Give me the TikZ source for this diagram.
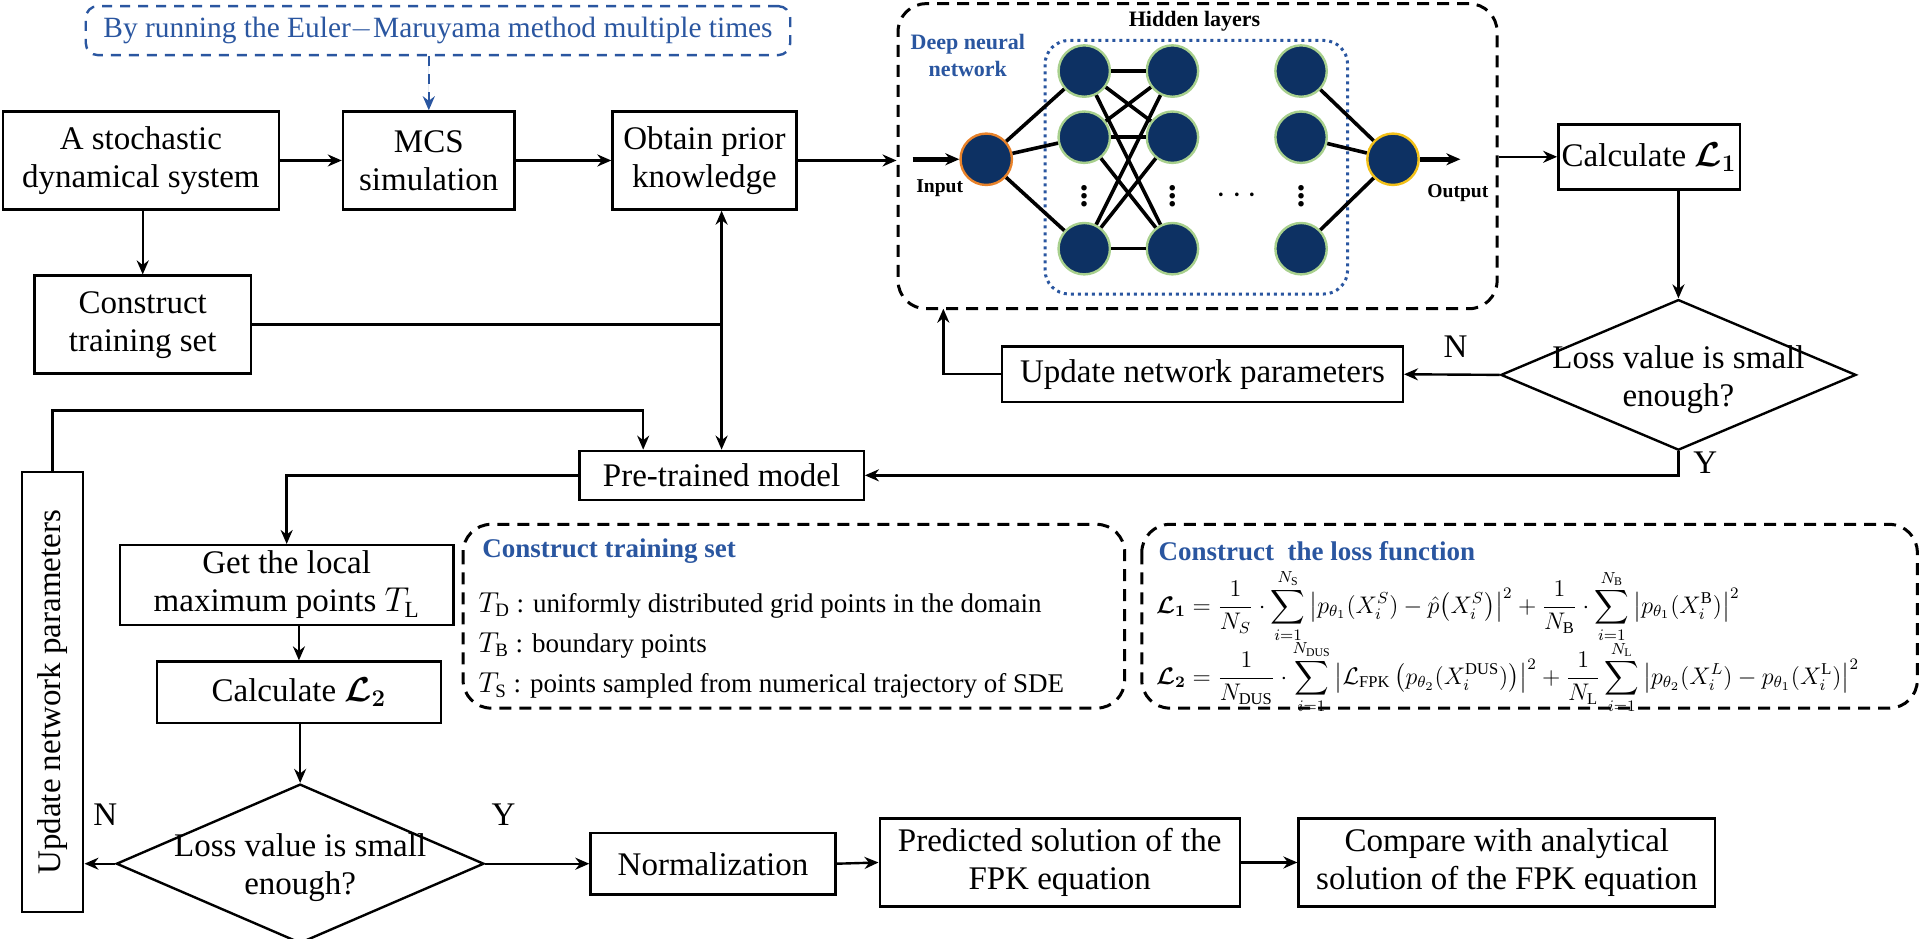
\documentclass[tikz,border=0pt]{standalone}
\usepackage{amsmath,bm}
\usepackage{fontspec}
\setmainfont{Liberation Serif}
\usetikzlibrary{shapes.geometric,arrows.meta,calc}
\definecolor{navy}{HTML}{0D3163}
\definecolor{bl}{HTML}{2A56A0}
\definecolor{lg}{HTML}{A8D08D}
\definecolor{org}{HTML}{E8822A}
\definecolor{yl}{HTML}{F2C018}
\begin{document}
\begin{tikzpicture}[x=0.6125pt,y=-0.6125pt,
 box/.style={draw,line width=1.2pt,align=center,inner sep=0pt,font=\fontsize{16.5}{19}\selectfont},
 dia/.style={draw,line width=1.2pt,diamond,inner sep=0pt},
 dtxt/.style={align=center,font=\fontsize{16.5}{19}\selectfont},
 arr/.style={line width=1.2pt,-{Stealth[length=7pt,width=6pt]}},
 ln/.style={line width=1.2pt},
 dbox/.style={draw,line width=1.5pt,dash pattern=on 6pt off 4pt,rounded corners=14pt},
 neu/.style={circle,fill=navy,draw=lg,line width=1.2pt,minimum size=25.7pt,inner sep=0pt},
 conn/.style={line width=1.8pt},
 lab/.style={font=\bfseries\fontsize{9.8}{11}\selectfont}]
\useasboundingbox (0,0) rectangle (1568,766);
% top blue
\node[draw=bl,text=bl,line width=1.2pt,dash pattern=on 5pt off 4pt,rounded corners=6pt,minimum width=352.2pt,minimum height=24.5pt,inner sep=0pt,font=\fontsize{14.7}{17}\selectfont] (ebl) at (357.5,25) {By running the Euler$-$Maruyama method multiple times};
\node[box,minimum width=137.8pt,minimum height=49pt] (A) at (115,131) {A stochastic\\dynamical system};
\node[box,minimum width=85.8pt,minimum height=49pt] (MCS) at (350,131) {MCS\\simulation};
\node[box,minimum width=91.9pt,minimum height=49pt] (Ob) at (575,131) {Obtain prior\\knowledge};
\node[box,minimum width=90.7pt,minimum height=32.5pt] (C1) at (1346,128) {Calculate $\bm{\mathcal{L}_1}$};
\node[dia,minimum width=177.6pt,minimum height=75.3pt] (D1) at (1370,306) {};
\node[dtxt] (D1t) at (1370,310) {Loss value is small\\enough?};
\node[box,minimum width=200.3pt,minimum height=27.6pt] (U1) at (981.5,305.5) {Update network parameters};
\node[box,minimum width=142.1pt,minimum height=24.5pt] (Pre) at (589,388) {Pre-trained model};
\node[box,minimum width=108.4pt,minimum height=49pt] (Con) at (116.5,265) {Construct\\training set};
\node[box,minimum width=30.6pt,minimum height=220pt] (UV) at (43,565) {\rotatebox{90}{Update network parameters}};
\node[box,minimum width=166.6pt,minimum height=39.8pt] (Get) at (234,477.5) {Get the local\\maximum points $T_{\mathrm{L}}$};
\node[box,minimum width=142.1pt,minimum height=30.6pt] (C2) at (244,565) {Calculate $\bm{\mathcal{L}_2}$};
\node[dia,minimum width=183.8pt,minimum height=79.6pt] (D2) at (245,705) {};
\node[dtxt] (D2t) at (245,708) {Loss value is small\\enough?};
\node[box,minimum width=122.5pt,minimum height=30.6pt] (Nor) at (582,705) {Normalization};
\node[box,minimum width=180pt,minimum height=44.1pt] (Pred) at (865,704) {Predicted solution of the\\FPK equation};
\node[box,minimum width=208.3pt,minimum height=44.1pt] (Cmp) at (1230,704) {Compare with analytical\\solution of the FPK equation};
% DNN box
\node[dbox,minimum width=299.5pt,minimum height=152.5pt] (DNN) at (977.5,127.5) {};
\draw[draw=bl,line width=1.5pt,dotted,rounded corners=12pt] (853,33) rectangle (1100,240);
\node[lab,font=\bfseries\fontsize{11}{12}\selectfont] (hl) at (975,17) {Hidden layers};
\node[lab,text=bl,align=center,font=\bfseries\fontsize{11}{13.5}\selectfont] (dnl) at (790,45) {Deep neural\\network};
\node[neu,draw=org] (in) at (805,130) {};
\node[neu,draw=yl] (out) at (1137,130) {};
\foreach \c/\x in {1/885,2/957,3/1062}{
 \foreach \r/\y in {1/58,2/112,3/203}{ \node[neu] (n\c\r) at (\x,\y) {}; }
 \node[font=\bfseries\fontsize{17}{17}\selectfont] (vd\c) at (\x,155) {$\vdots$};
}
\node[font=\bfseries\fontsize{17}{17}\selectfont] (hd) at (1012,160) {$\cdots$};
\foreach \r in {1,2,3}{
 \draw[conn] (in) -- (n1\r);
 \draw[conn] (n3\r) -- (out);
 \foreach \s in {1,2,3}{ \draw[conn] (n1\r) -- (n2\s); }
}
\coordinate (ia) at (745,130);
\coordinate (oa) at (1192,130);
\draw[line width=2.4pt,-{Stealth[length=7pt,width=6pt]}] (ia) -- (in.west);
\draw[line width=2.4pt,-{Stealth[length=7pt,width=6pt]}] (out.east) -- (oa);
\node[lab] (inl) at (767,154) {Input};
\node[lab] (outl) at (1190,158) {Output};
% edges
\draw[arr] (A) -- (MCS);
\draw[arr] (MCS) -- (Ob);
\draw[arr] (Ob.east) -- (Ob.east -| DNN.west);
\draw[arr] (DNN.east |- C1.west) -- (C1.west);
\draw[arr,draw=bl,fill=bl,dash pattern=on 5pt off 4pt] (ebl.south -| MCS.north) -- (MCS.north);
\draw[arr] (A.south -| Con.north) -- (Con.north);
\draw[arr] (Pre.north |- Con.east) -- (Pre.north |- Ob.south);
\draw[arr] (Pre.north |- Con.east) -- (Pre.north);
\draw[ln] (Con.east) -- (Con.east -| Pre.north);
\draw[arr] (D1.north |- C1.south) -- (D1.north);
\draw[arr] (D1.west) -- (U1.east);
\coordinate (k1) at (770,252);
\draw[arr] (U1.west) -| (k1);
\draw[arr] (D1.south) -- (D1.south |- Pre.east) -- (Pre.east);
\node[font=\fontsize{16.5}{19}\selectfont] (N1) at (1188,283) {N};
\node[font=\fontsize{16.5}{19}\selectfont] (Y1) at (1392,378) {Y};
\coordinate (k2) at (525,335);
\draw[arr] (UV.north) |- (k2) -- (k2 |- Pre.north);
\draw[arr] (Pre.west) -| (Get.north);
\draw[arr] (Get.south -| C2.north) -- (C2.north);
\draw[arr] (C2.south -| D2.north) -- (D2.north);
\draw[arr] (D2.west) -- (D2.west -| UV.east);
\draw[arr] (D2.east) -- (Nor.west);
\draw[arr] (Nor.east) -- (Pred.west);
\draw[arr] (Pred.east) -- (Cmp.west);
\node[font=\fontsize{16.5}{19}\selectfont] (N2) at (86,665) {N};
\node[font=\fontsize{16.5}{19}\selectfont] (Y2) at (411,665) {Y};
% training set box
\draw[dbox] (378,428) rectangle (918,578);
\node[anchor=west,text=bl,font=\bfseries\fontsize{13.5}{16}\selectfont] (tt) at (388,450) {Construct training set};
\node[anchor=west,font=\fontsize{13.5}{16}\selectfont] (t1) at (385,494) {$T_{\mathrm{D}}$ : uniformly distributed grid points in the domain};
\node[anchor=west,font=\fontsize{13.5}{16}\selectfont] (t2) at (385,527) {$T_{\mathrm{B}}$ : boundary points};
\node[anchor=west,font=\fontsize{13.5}{16}\selectfont] (t3) at (385,560) {$T_{\mathrm{S}}$ : points sampled from numerical trajectory of  SDE};
% loss box
\draw[dbox] (932,428) rectangle (1565,578);
\node[anchor=west,text=bl,font=\bfseries\fontsize{13.5}{16}\selectfont] (lt) at (940,450) {Construct\ \ the loss function};
\node[anchor=west,font=\fontsize{11.8}{13}\selectfont] (f1) at (938,495) {$\bm{\mathcal{L}_1}=\dfrac{1}{N_S}\cdot\displaystyle\sum_{i=1}^{N_{\mathrm{S}}}\left|p_{\theta_1}(X_i^S)-\hat p\big(X_i^S\big)\right|^2+\dfrac{1}{N_{\mathrm{B}}}\cdot\displaystyle\sum_{i=1}^{N_{\mathrm{B}}}\left|p_{\theta_1}(X_i^{\mathrm{B}})\right|^2$};
\node[anchor=west,font=\fontsize{11.8}{13}\selectfont] (f2) at (938,553) {$\bm{\mathcal{L}_2}=\dfrac{1}{N_{\mathrm{DUS}}}\cdot\displaystyle\sum_{i=1}^{N_{\mathrm{DUS}}}\left|\mathcal{L}_{\mathrm{FPK}}\left(p_{\theta_2}(X_i^{\mathrm{DUS}})\right)\right|^2+\dfrac{1}{N_{\mathrm{L}}}\displaystyle\sum_{i=1}^{N_{\mathrm{L}}}\left|p_{\theta_2}(X_i^L)-p_{\theta_1}(X_i^{\mathrm{L}})\right|^2$};
\end{tikzpicture}
\end{document}
